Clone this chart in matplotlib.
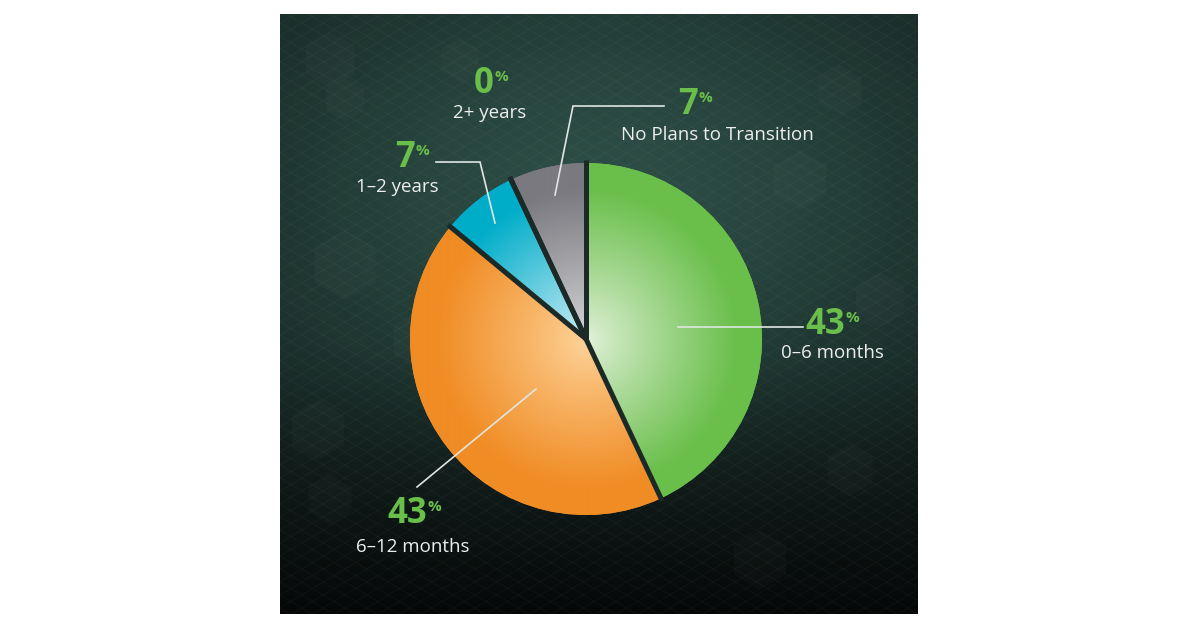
import numpy as np
import matplotlib
matplotlib.use("Agg")
import matplotlib.pyplot as plt
from matplotlib.patches import RegularPolygon

plt.rcParams['font.family'] = ['Open Sans', 'DejaVu Sans']

# data
labels = ['0–6 months', '6–12 months', '1–2 years', '2+ years', 'No Plans to Transition']
values = [43, 43, 7, 0, 7]
pct_text = ['43', '43', '7', '0', '7']
full_colors = ['#6abf4b', '#f08c24', '#00adc9', '#7b7a80', '#7b7a80']
light_colors = ['#e2f1da', '#fed49b', '#d6f0f7', '#d9d9db', '#d9d9db']

W, H = 1200, 627


def Y(y):
    # image row -> data y (y axis goes up)
    return H - y


fig = plt.figure(figsize=(12, 6.27), dpi=100, facecolor='white')
px0, py0, px1, py1 = 280, 14, 918, 614
ax = fig.add_axes([px0 / W, (H - py1) / H, (px1 - px0) / W, (py1 - py0) / H])

# background panel
ny, nx = 300, 319
u, v = np.meshgrid(np.linspace(0, 1, nx), np.linspace(0, 1, ny))
light_teal = np.array([0x2c, 0x4d, 0x45]) / 255
dark_teal = np.array([0x13, 0x21, 0x1f]) / 255
black = np.array([0x06, 0x08, 0x08]) / 255
d = np.sqrt(((u - 0.5) / 0.75) ** 2 + ((v - 0.3) / 0.55) ** 2)
glow = np.exp(-d ** 2 * 1.6)[..., None]
bg = dark_teal + (light_teal - dark_teal) * glow
b = (np.clip((v - 0.55) / 0.45, 0, 1) ** 1.2)[..., None]
bg = bg * (1 - b) + black * b
ax.imshow(bg, extent=(px0, px1, Y(py1), Y(py0)), origin='upper', zorder=0, aspect='auto')

# faint diamond grid
xs = np.array([px0, px1])
for c in np.arange(-800, 1400, 13):
    ax.plot(xs, c + 0.6 * (xs - px0), color='white', alpha=0.04, lw=0.6, zorder=1)
    ax.plot(xs, c - 0.6 * (xs - px0), color='white', alpha=0.04, lw=0.6, zorder=1)

# faint bokeh hexagons
for hx, hy, hr in [(330, 60, 28), (345, 100, 22), (345, 265, 35), (318, 430, 30),
                   (420, 340, 30), (840, 90, 25), (800, 180, 30), (880, 300, 28),
                   (850, 470, 26), (330, 500, 25), (760, 560, 30), (460, 60, 22)]:
    ax.add_patch(RegularPolygon((hx, Y(hy)), 6, radius=hr, color='white',
                                alpha=0.018, lw=0, zorder=1))

# pie
cx, cy, R = 586, Y(339), 176
wedges, _ = ax.pie(values, colors=full_colors, startangle=90, counterclock=False,
                   center=(cx, cy), radius=R, wedgeprops=dict(linewidth=0, zorder=2))

gy, gx = np.mgrid[cy + R:cy - R:-1.0, cx - R:cx + R:1.0]
rr = np.sqrt((gx - cx) ** 2 + (gy - cy) ** 2) / R
for w, lc, fc in zip(wedges, light_colors, full_colors):
    if w.theta2 - w.theta1 <= 0:
        continue
    t = np.clip(rr / 0.85, 0, 1) ** 0.9
    lc_ = np.array(matplotlib.colors.to_rgb(lc))
    fc_ = np.array(matplotlib.colors.to_rgb(fc))
    img = lc_ + (fc_ - lc_) * t[..., None]
    im = ax.imshow(img, extent=(cx - R, cx + R, cy - R, cy + R), origin='upper',
                   zorder=3, aspect='auto')
    im.set_clip_path(w)

# dark separators between slices
for w in wedges:
    a = np.deg2rad(w.theta1)
    ax.plot([cx, cx + (R + 3) * np.cos(a)], [cy, cy + (R + 3) * np.sin(a)],
            color='#1b2a27', lw=3.6, solid_capstyle='butt', zorder=4)

# leader lines (image coords)
leaders = [
    [(678, 327), (803, 327)],
    [(536, 389), (417, 487)],
    [(495, 223), (480, 162), (436, 162)],
    [],
    [(555, 195), (573, 106), (664, 106)],
]
for pts in leaders:
    if pts:
        ax.plot([p[0] for p in pts], [Y(p[1]) for p in pts], color='#dfe6e3',
                lw=1.2, zorder=5, solid_joinstyle='miter')

# percentage + category labels: (number left x, number baseline, label center x, label baseline)
pos = [
    (805, 334, 832, 358),
    (387, 523, 413, 552),
    (395, 167, 397, 192),
    (474, 93, 490, 118),
    (678, 114, 717, 140),
]
green = '#6abf4a'
for (nx_, nb, lx, lb), num, lab in zip(pos, pct_text, labels):
    t = ax.text(nx_, Y(nb), num, color=green, fontsize=25, fontweight='bold',
                ha='left', va='baseline', zorder=6)
    ax.annotate('%', xy=(1.0, Y(nb - 12)), xycoords=(t, 'data'), xytext=(0.5, 0),
                textcoords='offset points', color=green, fontsize=11,
                fontweight='bold', ha='left', va='baseline', zorder=6)
    ax.text(lx, Y(lb), lab, color='#eceeed', fontsize=13.5, ha='center',
            va='baseline', zorder=6)

ax.set_xlim(px0, px1)
ax.set_ylim(Y(py1), Y(py0))
ax.set_aspect('auto')
ax.axis('off')

fig.savefig('out.png', dpi=100, facecolor='white')
